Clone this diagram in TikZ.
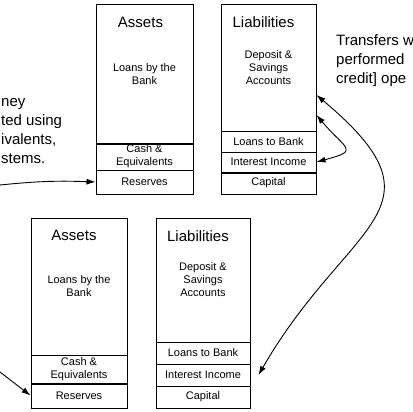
\documentclass[tikz,border=0pt]{standalone}
\usepackage{fontspec}
\setsansfont{Liberation Sans}
\usepackage{tikz}
\usetikzlibrary{positioning, arrows.meta}

\begin{document}
\begin{tikzpicture}[x=1pt, y=-1pt, font=\sffamily]
        % Setup the styles for the balance sheet parts
        \tikzset{part/.style={draw,
                              line width=1pt,
                              inner sep=0pt,
                              align=center,
                              font=\sffamily\fontsize{11}{13}\selectfont},
                 heading/.style={inner sep=0pt,
                                 font=\sffamily\fontsize{15}{18}\selectfont},
                 note/.style={inner sep=0pt,
                              anchor=west,
                              align=left,
                              font=\sffamily\fontsize{15}{19}\selectfont},
                 flow/.style={line width=0.9pt,
                              >={Latex[length=9pt, width=6pt]}}}

        \useasboundingbox (0,0) rectangle (412,412);

        % Draw the first bank
        \node[part, minimum width=97, minimum height=138] at (144.5, 74)  (a1loans) {Loans by the\\Bank};
        \node[part, minimum width=97, minimum height=27]  at (144.5, 156.5) (a1cash) {Cash \&\\Equivalents};
        \node[part, minimum width=97, minimum height=24]  at (144.5, 182)  (a1res)   {Reserves};
        \node[part, minimum width=95, minimum height=126] at (268.5, 68)   (l1dep)   {Deposit \&\\Savings\\Accounts};
        \node[part, minimum width=95, minimum height=21]  at (268.5, 141.5) (l1loan) {Loans to Bank};
        \node[part, minimum width=95, minimum height=20]  at (268.5, 162)  (l1int)   {Interest Income};
        \node[part, minimum width=95, minimum height=22]  at (268.5, 183)  (l1cap)   {Capital};
        \node[heading, below=12pt of a1loans.north, xshift=-4pt] (a1head) {Assets};
        \node[heading, below=12pt of l1dep.north, xshift=-5pt]   (l1head) {Liabilities};

        % Draw the second bank
        \node[part, minimum width=96, minimum height=137] at (79, 286.5)  (a2loans) {Loans by the\\Bank};
        \node[part, minimum width=96, minimum height=28]  at (79, 369)    (a2cash)  {Cash \&\\Equivalents};
        \node[part, minimum width=96, minimum height=25]  at (79, 395.5)  (a2res)   {Reserves};
        \node[part, minimum width=94, minimum height=124] at (203, 280)   (l2dep)   {Deposit \&\\Savings\\Accounts};
        \node[part, minimum width=94, minimum height=22]  at (203, 353)   (l2loan)  {Loans to Bank};
        \node[part, minimum width=94, minimum height=22]  at (203, 375)   (l2int)   {Interest Income};
        \node[part, minimum width=94, minimum height=22]  at (203, 397)   (l2cap)   {Capital};
        \node[heading, below=12pt of a2loans.north, xshift=-5pt] (a2head) {Assets};
        \node[heading, below=13pt of l2dep.north, xshift=-5pt]   (l2head) {Liabilities};

        % Thicker dividers
        \draw[line width=2pt] (a1loans.south west) -- (a1loans.south east);
        \draw[line width=2pt] (l1int.south west) -- (l1int.south east);
        \draw[line width=2pt] (a2cash.south west) -- (a2cash.south east);

        % Side notes
        \node[note] at (1, 131.5) (leftnote)  {ney\\ted using\\ivalents,\\stems.};
        \node[note] at (336, 61)  (rightnote) {Transfers w\\performed\\credit] ope};
        \coordinate (srcA) at (0, 185);
        \coordinate (srcB) at (0, 372);

        % Connect the parts with arrows
        \draw[flow, ->] (srcA) to[bend left=4] (a1res.west);
        \draw[flow, ->] (srcB) -- (a2res.west);
        \draw[flow, <->] ([yshift=-47pt]l1dep.east) to[out=-50, in=15, looseness=2.5] (l1int.east);
        \draw[flow, <->] ([yshift=-27pt]l1dep.east) to[out=-40, in=60, looseness=1.6] ([xshift=8pt]l2int.east);
\end{tikzpicture}
\end{document}
